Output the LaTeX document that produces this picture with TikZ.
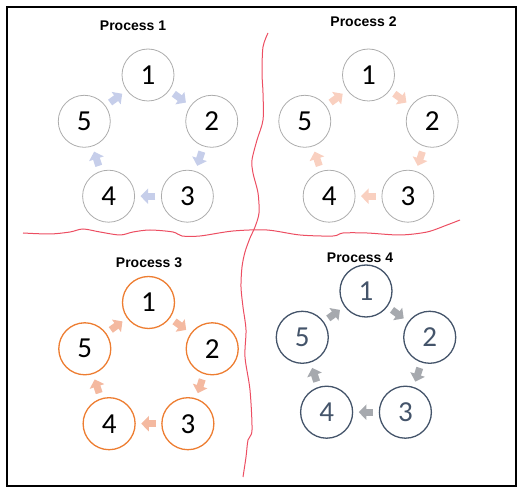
\documentclass[tikz,border=0pt]{standalone}
\usepackage{fontspec}
\usepackage{tikz}
\usetikzlibrary{arrows.meta}
\newfontfamily\titlefont{Liberation Sans}
\newfontfamily\numfont{Carlito}
\definecolor{ringgray}{RGB}{172,172,172}
\definecolor{ringorange}{RGB}{237,125,49}
\definecolor{ringnavy}{RGB}{68,84,106}
\definecolor{arrblue}{RGB}{198,206,234}
\definecolor{arrpeach}{RGB}{249,208,192}
\definecolor{arrsalmon}{RGB}{244,185,160}
\definecolor{arrgray}{RGB}{166,169,174}
\definecolor{redline}{RGB}{236,78,98}

\begin{document}
\begin{tikzpicture}[x=1pt,y=-1pt,
    stepnode/.style={circle, minimum size=52pt, inner sep=0pt,
      font=\numfont\fontsize{29}{29}\selectfont},
    flow/.style={line width=7pt, -{Triangle[length=7.5pt,width=15pt]},
      shorten <=5.5pt, shorten >=5.5pt},
    proctitle/.style={font=\titlefont\bfseries\fontsize{14}{14}\selectfont},
    sketch/.style={draw=redline, line width=1pt}]
        \useasboundingbox (0,0) rectangle (523,489);
        % Frame
        \draw[line width=1.4pt] (7,7) rectangle (516,486);
        % Processes
        \foreach \p/\cx/\cy/\ring/\ringw/\txt/\arr/\tx/\ty in {
            1/148/142/ringgray/0.8pt/black/arrblue/133/26,
            2/368.5/142/ringgray/0.8pt/black/arrpeach/363.5/22,
            3/148.5/369.5/ringorange/1.3pt/black/arrsalmon/149/263,
            4/366/358/ringnavy/1.3pt/ringnavy/arrgray/360/258} {
            \node[proctitle] (t\p) at (\tx,\ty) {Process \p};
            \begin{scope}[shift={(\cx,\cy)}]
                \foreach \i in {1,...,5}
                    \node[stepnode, draw=\ring, line width=\ringw, text=\txt] (p\p-\i)
                        at ({162-72*\i}:67pt) {\i};
                \foreach \i [evaluate=\i as \j using {int(mod(\i,5)+1)}] in {1,...,5}
                    \draw[flow, draw=\arr] (p\p-\i) -- (p\p-\j);
            \end{scope}
        }
        % Hand-drawn dividers
        \draw[sketch] plot[smooth] coordinates {(23,233) (50,234) (70,232) (83,229)
            (100,232) (120,235) (133,232) (150,230) (173,232) (182,236) (200,236)
            (233,231) (267,230) (300,235) (333,236) (343,233) (367,233) (400,235)
            (427,232) (447,225) (460,220)};
        \draw[sketch] plot[smooth] coordinates {(268,33) (263,47) (262,73) (263,93)
            (263,120) (257,140) (252,160) (253,173) (258,193) (259,213) (255,227)
            (250,238) (245,252) (242,267) (241,287) (243,307) (246,330) (245,357)
            (250,390) (252,430) (248,440) (246,457) (243,477)};
    \end{tikzpicture}
\end{document}
